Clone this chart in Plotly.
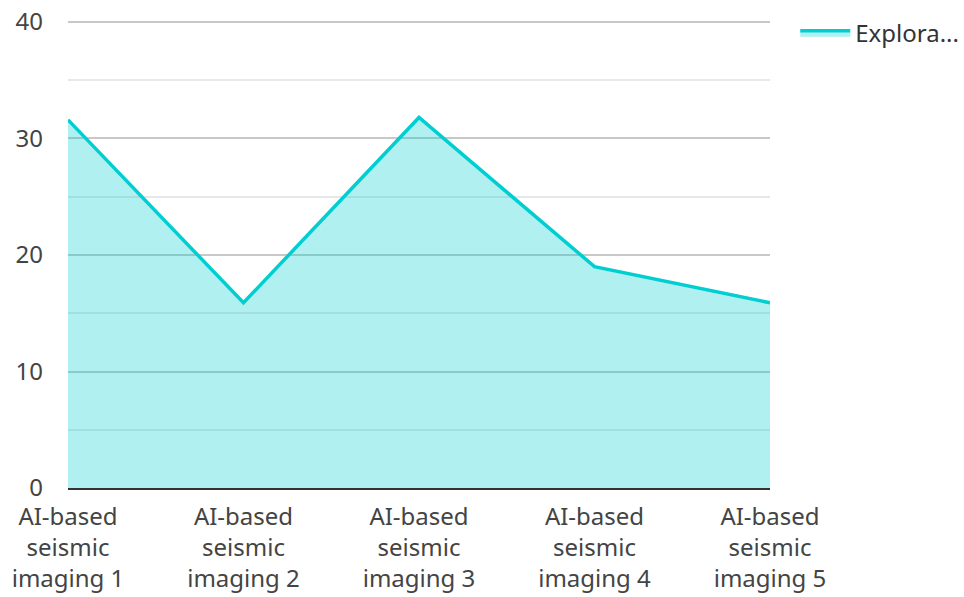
import plotly.graph_objects as go

categories = [
    "AI-based seismic imaging 1",
    "AI-based seismic imaging 2",
    "AI-based seismic imaging 3",
    "AI-based seismic imaging 4",
    "AI-based seismic imaging 5",
]
values = [31.6, 15.9, 31.8, 19.0, 15.9]
series_name = "Explora..."
y_ticks = [0, 10, 20, 30, 40]

LINE = "#00CED1"
FILL = "rgba(0,206,209,0.31)"
TEXT = "#444444"
FONT = "Noto Sans"

x_pos = list(range(len(categories)))
# wrap each category name over three lines
tick_text = []
for c in categories:
    w = c.split(" ")
    tick_text.append(f"{w[0]}<br>{w[1]}<br>{w[2]} {w[3]}")

fig = go.Figure()
fig.add_trace(go.Scatter(
    x=x_pos, y=values, name=series_name, mode="lines",
    line=dict(color=LINE, width=3.5), fill="tozeroy", fillcolor=FILL,
    showlegend=True,
))

fig.update_layout(
    width=964, height=597,
    margin=dict(l=68, r=194, t=20, b=109, autoexpand=False),
    paper_bgcolor="white", plot_bgcolor="white",
    font=dict(family=FONT, size=24, color=TEXT),
    legend=dict(x=1.036, y=1.02, xanchor="left", yanchor="top",
                font=dict(size=24, color="#333333"), itemwidth=50,
                bgcolor="rgba(0,0,0,0)"),
    xaxis=dict(
        range=[0, len(categories) - 1], tickmode="array", tickvals=x_pos,
        ticktext=tick_text, showgrid=False, zeroline=False,
        showline=True, linecolor="#333333", linewidth=2,
        ticks="", tickfont=dict(size=24, color=TEXT), automargin=False,
        ticklabelstandoff=6,
    ),
    yaxis=dict(
        range=[0, 40.17], tickmode="array", tickvals=y_ticks,
        showgrid=True, gridcolor="#c8c8c8", gridwidth=1.5,
        minor=dict(tickvals=[5, 15, 25, 35], showgrid=True,
                   gridcolor="#e8e8e8", gridwidth=1.5),
        zeroline=False, showline=False, ticks="",
        ticklabelstandoff=24, tickfont=dict(size=24, color=TEXT),
        automargin=False,
    ),
)

fig.write_html("out.html")
